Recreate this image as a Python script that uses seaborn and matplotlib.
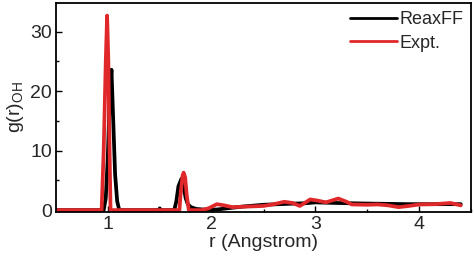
import numpy as np
import pandas as pd
import matplotlib
matplotlib.use("Agg")
import matplotlib.pyplot as plt
import seaborn as sns
from matplotlib.ticker import MultipleLocator

# ReaxFF series
r_reax = [0.50, 0.96, 0.98, 1.00, 1.02, 1.035, 1.05, 1.07, 1.09, 1.11, 1.49, 1.50, 1.51,
          1.64, 1.66, 1.68, 1.71, 1.73, 1.75, 1.77, 1.80, 1.85, 1.95, 2.05, 2.10, 2.20,
          2.30, 2.40, 2.50, 2.65, 2.80, 2.90, 3.00, 3.10, 3.20, 3.35, 3.50, 3.70, 3.90,
          4.00, 4.20, 4.40]
g_reax = [0.0, 0.0, 2.0, 9.0, 20.0, 23.6, 16.0, 6.0, 1.5, 0.0, 0.0, 0.3, 0.0,
          0.0, 1.5, 4.0, 5.3, 4.0, 2.0, 1.0, 0.5, 0.2, 0.05, 0.1, 0.2, 0.4,
          0.6, 0.75, 0.9, 1.0, 1.1, 1.15, 1.3, 1.25, 1.2, 1.15, 1.1, 1.05, 1.0,
          1.0, 1.0, 1.0]

# Expt. series
r_expt = [0.50, 0.94, 0.96, 0.98, 0.993, 1.005, 1.015, 1.026, 1.69, 1.70, 1.72, 1.73,
          1.745, 1.76, 1.78, 1.90, 1.97, 2.05, 2.12, 2.20, 2.35, 2.50, 2.60, 2.70,
          2.78, 2.85, 2.95, 3.02, 3.10, 3.22, 3.30, 3.35, 3.50, 3.60, 3.70, 3.80,
          3.90, 4.00, 4.15, 4.30, 4.40]
g_expt = [0.0, 0.0, 10.0, 25.0, 32.7, 25.0, 12.0, 0.0, 0.0, 2.5, 5.8, 6.3,
          5.5, 2.5, 0.0, 0.0, 0.3, 1.0, 0.8, 0.5, 0.6, 0.7, 1.0, 1.4,
          1.2, 0.7, 1.8, 1.6, 1.3, 1.95, 1.4, 0.95, 0.9, 0.95, 0.8, 0.5,
          0.7, 0.95, 1.0, 1.2, 0.8]

df = pd.concat([
    pd.DataFrame({"r": r_reax, "g": g_reax, "src": "ReaxFF"}),
    pd.DataFrame({"r": r_expt, "g": g_expt, "src": "Expt."}),
])

sns.set_style("ticks")
plt.rcParams["font.family"] = ["Liberation Sans", "DejaVu Sans"]

fig = plt.figure(figsize=(4.74, 2.60), dpi=100)
ax = fig.add_axes([0.118, 0.185, 0.876, 0.803])

sns.lineplot(data=df, x="r", y="g", hue="src", estimator=None, sort=False,
             palette={"ReaxFF": "#000000", "Expt.": "#e0282a"},
             linewidth=2.7, ax=ax)

ax.set_xlim(0.5, 4.5)
ax.set_ylim(-0.3, 34.8)
ax.xaxis.set_major_locator(MultipleLocator(1))
ax.xaxis.set_minor_locator(MultipleLocator(0.5))
ax.yaxis.set_major_locator(MultipleLocator(10))
ax.yaxis.set_minor_locator(MultipleLocator(5))
ax.tick_params(which="both", direction="in", labelsize=14, width=1.0, color="black")
ax.tick_params(which="major", length=4, pad=3)
ax.tick_params(which="minor", length=2.5)
for s in ax.spines.values():
    s.set_linewidth(1.3)
    s.set_color("black")

ax.set_xlabel("r (Angstrom)", fontsize=14, labelpad=1)
ax.set_ylabel("g(r)$_{\\mathregular{OH}}$", fontsize=14, labelpad=3)

leg = ax.legend(loc="upper right", frameon=False, fontsize=13, handlelength=2.6,
                handletextpad=0.1, borderaxespad=0.05, labelspacing=0.35,
                bbox_to_anchor=(1.0, 1.0))
for h in leg.get_lines():
    h.set_linewidth(2.0)

fig.savefig("out.png", dpi=100)
